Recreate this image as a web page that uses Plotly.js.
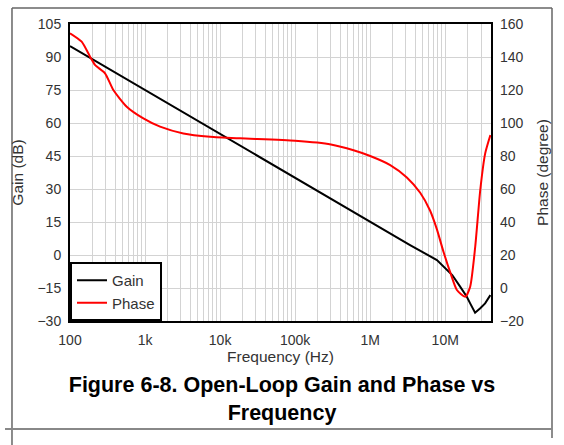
<!DOCTYPE html>
<html>
<head>
<meta charset="utf-8">
<script src="https://cdn.plot.ly/plotly-3.0.1.min.js"></script>
<style>
html,body{margin:0;padding:0;background:#fff;}
#chart{width:564px;height:445px;}
</style>
</head>
<body>
<div id="chart"></div>
<script>
// Gain curve (Hz, dB)
const gainFreq = [100, 1e3, 1e4, 1e5, 1e6, 3.4e6, 7.75e6, 1.24e7, 1.58e7, 1.94e7, 2.15e7, 2.5e7, 2.93e7, 3.4e7, 4.0e7];
const gainDb   = [95, 75, 55, 35, 15, 4.5, -2.3, -9.1, -14.4, -19, -22, -26.2, -24.2, -22, -18.2];

// Phase curve (Hz, degree)
const phaseFreq = [100, 143, 185, 215, 293, 378, 570, 950, 1585, 3240, 7360, 18500, 1e5, 3e5, 6e5,
                   1.0e6, 1.85e6, 3.08e6, 4.64e6, 6.3e6, 7.75e6, 9.5e6, 1.17e7, 1.43e7, 1.85e7, 2.15e7,
                   2.51e7, 2.93e7, 3.41e7, 4.0e7];
const phaseDeg  = [154.4, 149.3, 140.2, 135.2, 130.1, 120, 109.9, 102.8, 97.8, 93.7, 91.7, 90.7, 89.2, 87, 83.5,
                   80, 74.5, 67.0, 57.7, 46.8, 35.5, 21.8, 9.3, -1.2, -5.3, 0.8,
                   25, 59.4, 81.6, 92.7];

// Axis tick labels
const decadeVals   = [100, 1e3, 1e4, 1e5, 1e6, 1e7];
const decadeLabels = ['100', '1k', '10k', '100k', '1M', '10M'];
const gainTicks  = [-30, -15, 0, 15, 30, 45, 60, 75, 90, 105];
const phaseTicks = [-20, 0, 20, 40, 60, 80, 100, 120, 140, 160];

const seriesNames = ['Gain', 'Phase'];
const titleText = 'Figure 6-8. Open-Loop Gain and Phase vs<br>Frequency';

// build log grid tick positions (1..9 per decade) with labels only on decades
const xTickVals = [], xTickText = [];
for (let d = 0; d < decadeVals.length; d++) {
  for (let m = 1; m <= 9; m++) {
    const v = decadeVals[d] * m;
    if (v > 4.1e7) break;
    xTickVals.push(v);
    xTickText.push(m === 1 ? decadeLabels[d] : '');
  }
}

const fontFam = 'Liberation Sans, Arial, sans-serif';
const tickFont = {family: fontFam, size: 14, color: '#333'};
const axTitleFont = {family: fontFam, size: 15.5, color: '#333'};

const traces = [
  {x: gainFreq, y: gainDb, name: seriesNames[0], type: 'scatter', mode: 'lines',
   line: {color: '#000', width: 2}, yaxis: 'y'},
  {x: phaseFreq, y: phaseDeg, name: seriesNames[1], type: 'scatter', mode: 'lines',
   line: {color: '#ff0000', width: 2, shape: 'spline', smoothing: 0.6}, yaxis: 'y2'}
];

const frameLine = {color: '#666', width: 1.5};
const layout = {
  width: 564, height: 445,
  margin: {l: 70, r: 73, t: 24, b: 124},
  paper_bgcolor: '#fff', plot_bgcolor: '#fff',
  font: {family: fontFam, color: '#333'},
  showlegend: true,
  legend: {x: 0, y: 0, xanchor: 'left', yanchor: 'bottom', bgcolor: '#fff',
           bordercolor: '#000', borderwidth: 2, font: {family: fontFam, size: 15, color: '#333'},
           tracegroupgap: 0},
  title: {text: titleText, x: 0.5, xref: 'container', xanchor: 'center',
          y: 0.119, yref: 'container', yanchor: 'middle',
          font: {family: fontFam, size: 21.5, color: '#000', weight: 'bold'}},
  xaxis: {type: 'log', range: [2, 7.61], tickmode: 'array', tickvals: xTickVals, ticktext: xTickText,
          showgrid: true, gridcolor: '#d3d3d3', gridwidth: 1, zeroline: false,
          showline: true, linecolor: '#000', linewidth: 2, mirror: true, ticks: '',
          tickfont: tickFont, ticklabelstandoff: 5,
          title: {text: 'Frequency (Hz)', font: axTitleFont, standoff: 1}},
  yaxis: {range: [-30, 105], tickmode: 'array', tickvals: gainTicks,
          showgrid: true, gridcolor: '#d3d3d3', gridwidth: 1, zeroline: false,
          showline: true, linecolor: '#000', linewidth: 2, mirror: true, ticks: '',
          tickfont: tickFont, ticklabelstandoff: 4,
          title: {text: 'Gain (dB)', font: axTitleFont, standoff: 10}},
  yaxis2: {range: [-20, 160], tickmode: 'array', tickvals: phaseTicks, overlaying: 'y', side: 'right',
           showgrid: false, zeroline: false, showline: false, ticks: '',
           tickfont: tickFont, ticklabelstandoff: 8,
           title: {text: 'Phase (degree)', font: axTitleFont, standoff: 14}},
  shapes: [
    {type: 'line', xref: 'paper', yref: 'paper', x0: -0.1378, x1: -0.1378, y0: 1.0539, y1: -0.42, line: frameLine},
    {type: 'line', xref: 'paper', yref: 'paper', x0: -0.1378, x1: 1.1449, y0: 1.0539, y1: 1.0539, line: frameLine},
    {type: 'line', xref: 'paper', yref: 'paper', x0: 1.1449, x1: 1.1449, y0: 1.0539, y1: -0.394, line: frameLine},
    {type: 'line', xref: 'paper', yref: 'paper', x0: -0.1544, x1: 1.1449, y0: -0.3636, y1: -0.3636, line: {color: '#888', width: 2}}
  ]
};

Plotly.newPlot('chart', traces, layout, {displayModeBar: false, staticPlot: true});
</script>
</body>
</html>
